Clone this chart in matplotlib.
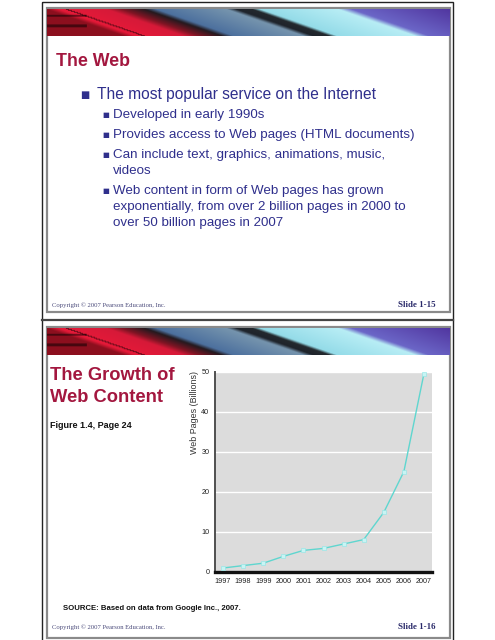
import numpy as np
import matplotlib
matplotlib.use("Agg")
import matplotlib.pyplot as plt
from matplotlib.patches import Rectangle

# data
years = [1997, 1998, 1999, 2000, 2001, 2002, 2003, 2004, 2005, 2006, 2007]
pages = [1.0, 1.6, 2.2, 3.9, 5.4, 5.9, 7.0, 8.1, 14.9, 25.1, 49.6]
ytick_vals = [0, 10, 20, 30, 40, 50]

title_top = "The Web"
bullet_main = "The most popular service on the Internet"
sub_bullets = [
    ["Developed in early 1990s"],
    ["Provides access to Web pages (HTML documents)"],
    ["Can include text, graphics, animations, music,", "videos"],
    ["Web content in form of Web pages has grown",
     "exponentially, from over 2 billion pages in 2000 to",
     "over 50 billion pages in 2007"],
]
title_bottom = ["The Growth of", "Web Content"]
fig_ref = "Figure 1.4, Page 24"
source = "SOURCE: Based on data from Google Inc., 2007."
copyright = "Copyright \u00a9 2007 Pearson Education, Inc."
slide_nums = ["Slide 1-15", "Slide 1-16"]

CRIMSON = "#a3173f"
NAVY = "#2f2f8c"
SANS = ["Liberation Sans", "DejaVu Sans"]
SERIF = ["Liberation Serif", "DejaVu Serif"]

plt.rcParams["hatch.linewidth"] = 0.4

fig = plt.figure(figsize=(4.95, 6.4), dpi=100)
bg = fig.add_axes([0, 0, 1, 1])
bg.set_xlim(0, 495)
bg.set_ylim(640, 0)
bg.axis("off")


def banner():
    # decorative header strip of the slide template
    h, w = 28, 404
    stops = [-100, 0, 12, 60, 75, 98, 110, 180, 190, 206, 214, 292, 306, 420]
    cols = np.array([
        [0.55, 0.06, 0.12],
        [0.55, 0.06, 0.12], [0.90, 0.10, 0.22], [0.84, 0.10, 0.22],
        [0.50, 0.08, 0.14], [0.14, 0.10, 0.12], [0.30, 0.44, 0.62],
        [0.46, 0.58, 0.68], [0.12, 0.14, 0.17], [0.14, 0.16, 0.18],
        [0.58, 0.86, 0.91], [0.72, 0.93, 0.96], [0.42, 0.40, 0.78],
        [0.30, 0.18, 0.60]])
    ii, jj = np.mgrid[0:h, 0:w]
    u = jj - 2.8 * ii
    img = np.zeros((h, w, 3))
    for c in range(3):
        img[..., c] = np.interp(u, stops, cols[:, c])
    # thin dark diagonal inside the red part
    line = np.abs(u - 20) < 2.0
    img[line] *= 0.5
    # darker streaks at the left edge
    mask = (jj < 40) & (((ii > 15) & (ii < 19)) | ((ii > 5) & (ii < 8)))
    img[mask] *= 0.5
    return img


img = banner()

# slide frames
bg.add_patch(Rectangle((42, 2), 411, 650, fill=False, ec="#222222", lw=1.0))
bg.plot([42, 453], [320, 320], color="#444444", lw=1.6)
for top, bot in [(8, 312), (327, 638)]:
    bg.add_patch(Rectangle((46.5, top), 403.5, bot - top, fill=False,
                           ec="#8a8a8a", lw=1.6))
    bg.imshow(img, extent=(47, 450, top + 28, top + 1), aspect="auto",
              interpolation="bilinear", zorder=1)
bg.set_xlim(0, 495)
bg.set_ylim(640, 0)

# top slide text
bg.text(56, 62, title_top, color=CRIMSON, fontsize=12.8, fontweight="bold",
        family=SANS, va="center")
bg.text(80.5, 95, "\u25a0", color=NAVY, fontsize=7.0, family=["DejaVu Sans"],
        va="center")
bg.text(97, 95, bullet_main, color=NAVY, fontsize=11.2, family=SANS,
        va="center")
y = 115
for item in sub_bullets:
    bg.text(102.5, y, "\u25a0", color=NAVY, fontsize=5.2,
            family=["DejaVu Sans"], va="center")
    for line in item:
        bg.text(113, y, line, color=NAVY, fontsize=9.6, family=SANS,
                va="center")
        y += 16.2
    y += 3.6

for ybase, num in [(305, slide_nums[0]), (627, slide_nums[1])]:
    bg.text(52, ybase, copyright, color="#4a4a7a", fontsize=4.8, family=SERIF,
            va="center")
    bg.text(436, ybase, num, color="#2a2a6a", fontsize=6.4, family=SERIF,
            fontweight="bold", va="center", ha="right")

# bottom slide text
bg.text(50, 375, title_bottom[0], color=CRIMSON, fontsize=13.2,
        fontweight="bold", family=SANS, va="center")
bg.text(50, 397, title_bottom[1], color=CRIMSON, fontsize=13.2,
        fontweight="bold", family=SANS, va="center")
bg.text(50, 425, fig_ref, color="#111111", fontsize=6.5, fontweight="bold",
        family=SANS, va="center")
bg.text(63, 608, source, color="#111111", fontsize=5.6, fontweight="bold",
        family=SANS, va="center")

# the chart
ax = fig.add_axes([215 / 495, 68 / 640, 217 / 495, 200 / 640])
ax.set_facecolor("#c9c9c9")
ax.add_patch(Rectangle((0, 0), 1, 1, transform=ax.transAxes, fill=False,
                       hatch="|" * 36, ec="#dcdcdc", lw=0, zorder=0))
ax.set_axisbelow(True)
ax.yaxis.grid(True, color="white", lw=1.0)
ax.plot(years, pages, color="#5fd6cf", lw=1.0, marker="s", ms=2.2,
        mfc="#c8f4f4", mec="#8ee6e6", mew=0.4, zorder=3)
ax.set_xlim(1996.6, 2007.4)
ax.set_ylim(0, 50)
ax.set_xticks(years)
ax.set_xticklabels([str(v) for v in years])
ax.set_yticks(ytick_vals)
ax.tick_params(length=0, labelsize=5.2, colors="#222222", pad=4)
for lab in ax.get_xticklabels() + ax.get_yticklabels():
    lab.set_family(["Liberation Sans Narrow", "Liberation Sans"])
for s in ["top", "right"]:
    ax.spines[s].set_visible(False)
ax.spines["left"].set_color("#505050")
ax.spines["left"].set_linewidth(1.4)
ax.spines["bottom"].set_color("#111111")
ax.spines["bottom"].set_linewidth(2.4)
ax.set_ylabel("Web Pages (Billions)", fontsize=6.4, color="#333333",
              family=SANS)
ax.yaxis.set_label_coords(-0.075, 0.80)

fig.savefig("out.png", dpi=100)
